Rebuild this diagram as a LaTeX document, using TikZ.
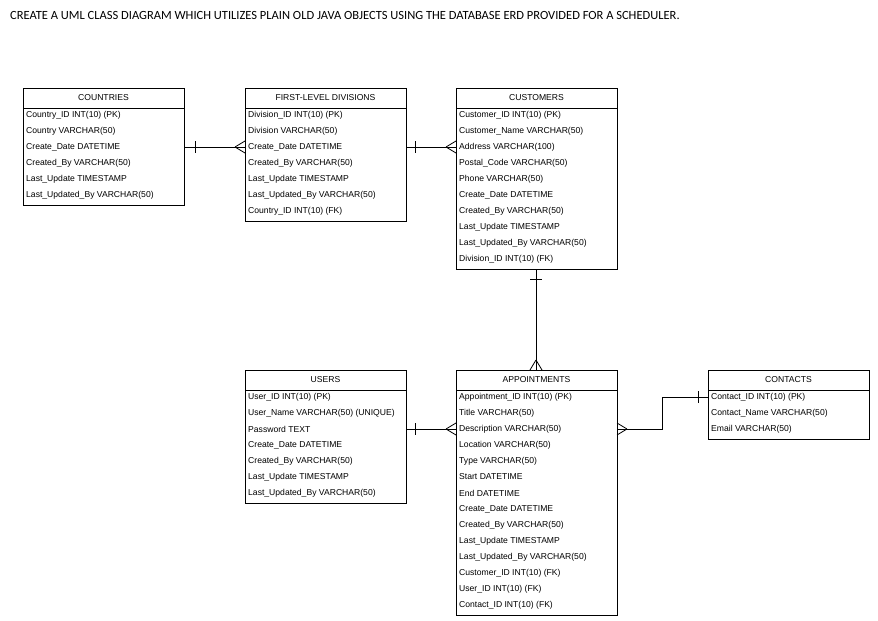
\documentclass[tikz,border=0pt]{standalone}
\usepackage{fontspec}
\setmainfont{Liberation Sans}
\newfontfamily\titlefont{Carlito}
\begin{document}
\begin{tikzpicture}[x=1pt,y=-1pt,
  box/.style={draw,line width=0.8pt},
  rowtxt/.style={anchor=west,inner sep=0pt,font=\fontsize{8.6}{10}\selectfont},
  hdtxt/.style={inner sep=0pt,font=\fontsize{8.6}{10}\selectfont},
  conn/.style={line width=0.8pt}]
\useasboundingbox (0,0) rectangle (878,621);
\node[anchor=west,inner sep=0pt,font=\titlefont\fontsize{12.5}{14}\selectfont] (title) at (10,15) {CREATE A UML CLASS DIAGRAM WHICH UTILIZES PLAIN OLD JAVA OBJECTS USING THE DATABASE ERD PROVIDED FOR A SCHEDULER.};
% entity macro: name, x, y, title, rows
\newcommand\myentity[5]{%
  \def\rowcount{0}%
  \foreach \r [count=\i] in {#5} {\xdef\rowcount{\i}}%
  \coordinate (#1-nw) at (#2,#3);
  \coordinate (#1-se) at (#2+161,#3+27+16*\rowcount-6);
  \draw[box] (#1-nw) rectangle (#1-se);
  \draw[box] (#2,#3+20) -- (#2+161,#3+20);
  \node[hdtxt] (#1-title) at (#2+80.5,#3+10) {#4};
  \foreach \r [count=\i] in {#5} {\node[rowtxt] (#1-r\i) at (#2+3,#3+11+16*\i) {\r};}
}
\myentity{co}{23}{88}{COUNTRIES}{Country\_ID INT(10) (PK),Country VARCHAR(50),Create\_Date DATETIME,Created\_By VARCHAR(50),Last\_Update TIMESTAMP,Last\_Updated\_By VARCHAR(50)}
\myentity{di}{245}{88}{FIRST-LEVEL DIVISIONS}{Division\_ID INT(10) (PK),Division VARCHAR(50),Create\_Date DATETIME,Created\_By VARCHAR(50),Last\_Update TIMESTAMP,Last\_Updated\_By VARCHAR(50),Country\_ID INT(10) (FK)}
\myentity{cu}{456}{88}{CUSTOMERS}{Customer\_ID INT(10) (PK),Customer\_Name VARCHAR(50),Address VARCHAR(100),Postal\_Code VARCHAR(50),Phone VARCHAR(50),Create\_Date DATETIME,Created\_By VARCHAR(50),Last\_Update TIMESTAMP,Last\_Updated\_By VARCHAR(50),Division\_ID INT(10) (FK)}
\myentity{us}{245}{370}{USERS}{User\_ID INT(10) (PK),User\_Name VARCHAR(50) (UNIQUE),Password TEXT,Create\_Date DATETIME,Created\_By VARCHAR(50),Last\_Update TIMESTAMP,Last\_Updated\_By VARCHAR(50)}
\myentity{ap}{456}{370}{APPOINTMENTS}{Appointment\_ID INT(10) (PK),Title VARCHAR(50),Description VARCHAR(50),Location VARCHAR(50),Type VARCHAR(50),Start DATETIME,End DATETIME,Create\_Date DATETIME,Created\_By VARCHAR(50),Last\_Update TIMESTAMP,Last\_Updated\_By VARCHAR(50),Customer\_ID INT(10) (FK),User\_ID  INT(10) (FK),Contact\_ID  INT(10) (FK)}
\myentity{ct}{708}{370}{CONTACTS}{Contact\_ID INT(10) (PK),Contact\_Name VARCHAR(50),Email VARCHAR(50)}
% connectors
\coordinate (c1a) at (184,147); \coordinate (c1b) at (245,147);
\draw[conn] (c1a) -- (c1b);
\draw[conn] (195,141) -- (195,153);
\draw[conn] (235,147) -- (245,141) (235,147) -- (245,153);
\coordinate (c2a) at (406,147); \coordinate (c2b) at (456,147);
\draw[conn] (c2a) -- (c2b);
\draw[conn] (415,141) -- (415,153);
\draw[conn] (446,147) -- (456,141) (446,147) -- (456,153);
\coordinate (c3a) at (536,269); \coordinate (c3b) at (536,370);
\draw[conn] (c3a) -- (c3b);
\draw[conn] (530,279) -- (542,279);
\draw[conn] (536,360) -- (530,370) (536,360) -- (542,370);
\coordinate (c4a) at (406,429); \coordinate (c4b) at (456,429);
\draw[conn] (c4a) -- (c4b);
\draw[conn] (415,423) -- (415,435);
\draw[conn] (446,429) -- (456,423) (446,429) -- (456,435);
\coordinate (c5a) at (617,429); \coordinate (c5b) at (708,397);
\draw[conn] (c5a) -- (662,429) -- (662,397) -- (c5b);
\draw[conn] (698,391) -- (698,403);
\draw[conn] (627,429) -- (617,423) (627,429) -- (617,435);
\end{tikzpicture}
\end{document}
